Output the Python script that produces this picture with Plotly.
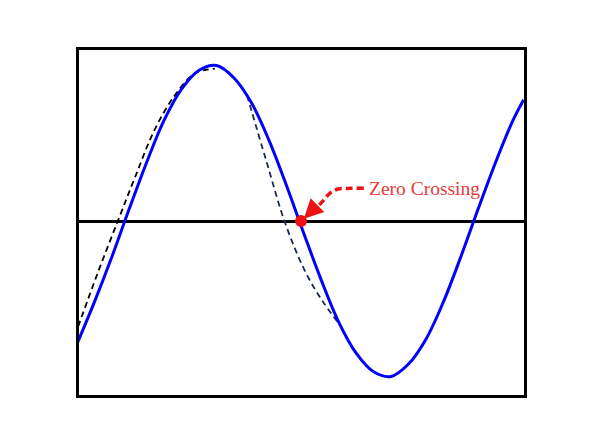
import plotly.graph_objects as go

# --- Data (x in ms, y normalised to amplitude) ---
signal_x = [0.0, 0.5, 1.0, 1.5, 2.0, 2.5, 3.0, 3.5, 4.0, 4.5, 5.0, 5.5, 6.0, 6.5,
            7.0, 7.5, 8.0, 8.5, 9.0, 9.5, 10.0, 10.5, 11.0, 11.5, 12.0, 12.5, 12.8]
signal_y = [-0.79, -0.52, -0.23, 0.08, 0.38, 0.65, 0.85, 0.97, 1.00, 0.92, 0.76, 0.52,
            0.23, -0.08, -0.38, -0.65, -0.85, -0.97, -1.00, -0.92, -0.76, -0.52, -0.23,
            0.08, 0.38, 0.65, 0.78]

# dashed approximation, two pieces (rising edge, falling edge)
rise_x = [0.03, 0.60, 1.17, 1.66, 2.23, 2.81, 3.38, 3.95]
rise_y = [-0.68, -0.33, 0.0, 0.28, 0.59, 0.81, 0.95, 0.98]
fall_x = [4.87, 5.42, 5.96, 6.53, 7.02, 7.54]
fall_y = [0.81, 0.39, -0.01, -0.32, -0.51, -0.67]

# zero crossing marker + curved pointer
crossing_x = [6.42]
crossing_y = [0.0]
pointer_x = [8.22, 7.82, 7.48, 7.25, 7.05, 6.85]
pointer_y = [0.21, 0.21, 0.206, 0.18, 0.13, 0.08]
label = "Zero Crossing"

RED = "#ee1111"

fig = go.Figure()

fig.add_trace(go.Scatter(x=rise_x, y=rise_y, mode="lines", line_shape="spline",
                         line=dict(color="black", width=1.8, dash="6px,4px")))
fig.add_trace(go.Scatter(x=fall_x, y=fall_y, mode="lines", line_shape="spline",
                         line=dict(color="#1a2a50", width=1.8, dash="6px,4px")))
fig.add_trace(go.Scatter(x=signal_x, y=signal_y, mode="lines", line_shape="spline",
                         line=dict(color="#0000ff", width=3)))
fig.add_trace(go.Scatter(x=pointer_x, y=pointer_y, mode="lines", line_shape="spline",
                         line=dict(color=RED, width=3.5, dash="7px,4px")))
fig.add_trace(go.Scatter(x=crossing_x, y=crossing_y, mode="markers",
                         marker=dict(color=RED, size=12)))

# arrow head only
fig.add_annotation(x=6.50, y=0.015, text="", showarrow=True, arrowhead=2,
                   arrowsize=1.1, arrowwidth=3.5, arrowcolor=RED,
                   ax=11, ay=-11, standoff=0)
fig.add_annotation(x=8.31, y=0.21, text=label, showarrow=False, xanchor="left",
                   font=dict(family="Liberation Serif", size=19.5, color="#e63a3a"))

fig.update_xaxes(range=[0.057, 12.81], showgrid=False, zeroline=False, showticklabels=False,
                 ticks="", showline=True, mirror=True, linecolor="black", linewidth=3)
fig.update_yaxes(range=[-1.119, 1.10], showgrid=False, showticklabels=False, ticks="",
                 zeroline=True, zerolinecolor="black", zerolinewidth=2.5,
                 showline=True, mirror=True, linecolor="black", linewidth=3)

# margins account for the 8px default body margin of the page
fig.update_layout(width=600, height=441, showlegend=False,
                  margin=dict(l=71, r=84, t=42, b=54),
                  paper_bgcolor="white", plot_bgcolor="white")

fig.write_html("out.html")
